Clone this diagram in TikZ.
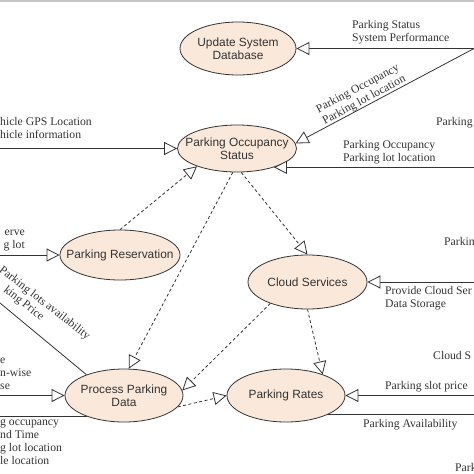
\documentclass[tikz,border=0pt]{standalone}
\usepackage{fontspec}
\setmainfont{Liberation Serif}
\newfontfamily\casefont{Liberation Sans}
\usetikzlibrary{shapes.geometric,arrows.meta}
\definecolor{casefill}{RGB}{250,232,218}
\definecolor{inkgray}{RGB}{51,51,51}
\begin{document}
\begin{tikzpicture}[x=1pt,y=-1pt,
    usecase/.style={ellipse,draw=inkgray,fill=casefill,line width=0.8pt,inner sep=0pt},
    casetext/.style={align=center,text=inkgray,font=\casefont\fontsize{11.9}{13.5}\selectfont},
    flow/.style={draw=inkgray,line width=0.8pt,-{Triangle[length=13pt,width=13pt,fill=white]}},
    dflow/.style={flow,dash pattern=on 3pt off 2.5pt},
    wire/.style={draw=inkgray,line width=0.8pt},
    note/.style={align=left,inner sep=0pt,text=inkgray,font=\fontsize{11.7}{13}\selectfont}]

    \coordinate (width)  at (474,0);
    \coordinate (height) at (0,474);
    \useasboundingbox (0,0) rectangle (width |- height);
    \clip (0,0) rectangle (width |- height);
    \fill[gray!45] (0,0) rectangle (474,2);

    \foreach \n/\x/\y/\w/\h in {updb/238/48.5/116/53, occ/237/148.5/119/47,
        res/120/255/120/50, cloud/307.5/282/119/54,
        proc/124/395.5/118/53, rates/286/395.5/118/53}
    \node[usecase, minimum width=\w pt, minimum height=\h pt] (\n) at (\x,\y) {};

    \node[casetext] (updb text)  at (updb)  {Update System\\Database};
    \node[casetext] (occ text)   at (occ)   {Parking Occupancy\\Status};
    \node[casetext] (res text)   at (res)   {Parking Reservation};
    \node[casetext] (cloud text) at (cloud) {Cloud Services};
    \node[casetext] (proc text)  at (proc)  {Process Parking\\Data};
    \node[casetext] (rates text) at (rates) {Parking Rates};

    \coordinate (price feed) at (0,303);

    \draw[flow] (width |- updb.east) -- (updb.east);
    \draw[flow] (width |- updb.east) --
    node[note, sloped, above, pos=0.6] (occupancy slope note) {Parking Occupancy\\Parking lot location}
    (occ.5);
    \draw[flow] (width |- occ.-27) -- (occ.-27);
    \draw[flow] (height |- occ.west) -- (occ.west);
    \draw[flow] (height |- res.west) -- (res.west);
    \draw[wire] (price feed) -- (proc.151);
    \draw[flow] (height |- proc.west) -- (proc.west);
    \draw[wire] (proc.-150) -- (height |- proc.-150);
    \draw[flow] (width |- cloud.east) -- (cloud.east);
    \draw[flow] (width |- rates.east) -- (rates.east);
    \draw[wire] (rates.-25) -- (width |- rates.-25);

    \draw[dflow] (res.north) -- (occ.-156);
    \draw[dflow] (occ.-80) -- (cloud.north);
    \draw[dflow] (occ.-100) -- (proc.80);
    \draw[dflow] (cloud.-150) -- (proc.5);
    \draw[dflow] (proc.-12) -- (rates.west);
    \draw[dflow] (cloud.south) -- (rates.30);

    \node[note, anchor=west] (status note) at (352,32.5) {Parking Status\\System Performance};
    \node[note, anchor=west] (occupancy note) at (343,152) {Parking Occupancy\\Parking lot location};
    \node[note, anchor=west] (parking actor a) at (436,123) {Parking};
    \node[note, anchor=west] (gps note) at (0,128) {hicle GPS Location\\hicle information};
    \node[note, align=right, anchor=east] (reserve note) at (25,241) {erve\\g lot};
    \node[note, rotate=-38] (price note) at (40.5,308.6) {Parking lots availability\\\hphantom{Par}king Price};
    \node[note, anchor=west] (wise note) at (0,373.5) {e\\n-wise\\se};
    \node[note, anchor=west] (time note) at (0,442.5) {g occupancy\\nd Time\\g lot location\\le location};
    \node[note, anchor=west] (cloud note) at (385,298) {Provide Cloud Ser\\Data Storage};
    \node[note, anchor=west] (parking actor b) at (444,241) {Parkin};
    \node[note, anchor=west] (cloud actor) at (433,355) {Cloud S};
    \node[note, anchor=west] (slot note) at (385,387) {Parking slot price};
    \node[note, anchor=west] (availability note) at (363,425) {Parking Availability};
    \node[note, anchor=west] (parking actor c) at (455,467) {Park};
\end{tikzpicture}
\end{document}
